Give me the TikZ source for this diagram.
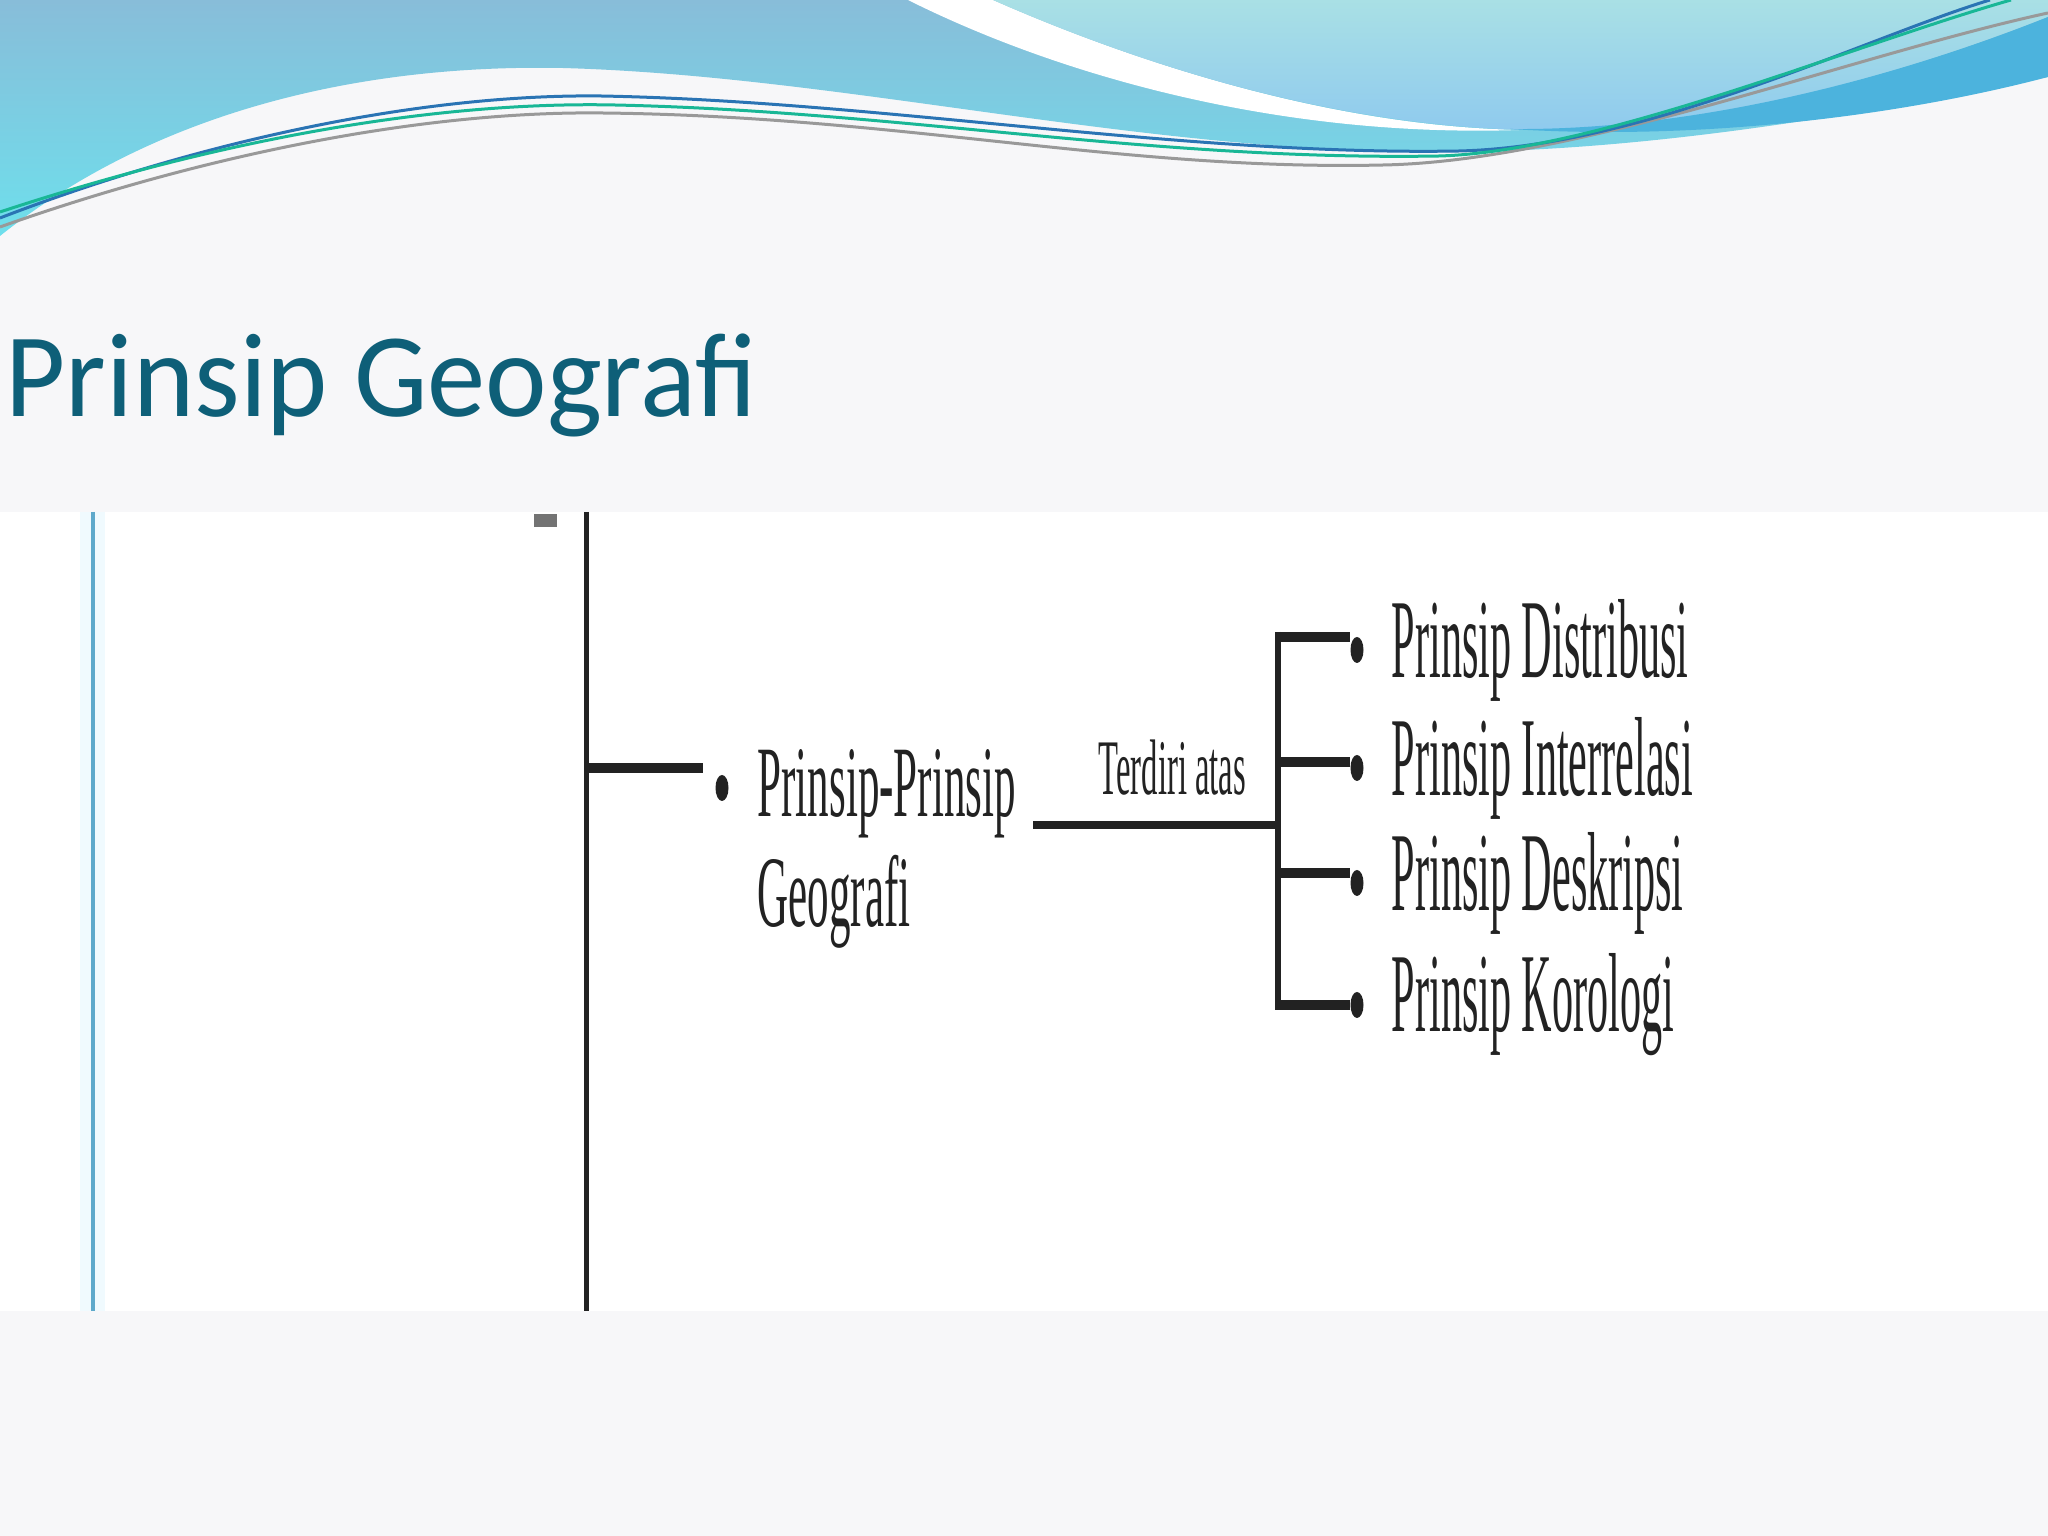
\documentclass[tikz,border=0pt]{standalone}
\usepackage{fontspec}
\usepackage{graphicx}
\usetikzlibrary{positioning,shapes.geometric}
\newfontfamily\titlefont{Carlito}
\newfontfamily\chartfont{Liberation Serif}
\definecolor{pagebg}{HTML}{F7F7F9}
\definecolor{titleteal}{HTML}{0E5F78}
\definecolor{waveTop}{HTML}{88BDD9}
\definecolor{waveBot}{HTML}{6EDFEC}
\definecolor{lightTop}{HTML}{A9E0E5}
\definecolor{lightBot}{HTML}{8FCAEE}
\definecolor{bandblue}{HTML}{4CB3DD}
\definecolor{edgeblue}{HTML}{5EA9CB}
\definecolor{linegreen}{HTML}{19B796}
\definecolor{lineblue}{HTML}{2A74B4}
\definecolor{inkgray}{HTML}{222222}
\newcommand{\squeeze}[2]{\scalebox{#1}[1]{#2}}
\tikzset{
  trunk/.style={line width=0.05cm, color=inkgray},
  branch/.style={line width=0.1cm, color=inkgray},
  dot/.style={ellipse, fill=inkgray, inner sep=0pt, minimum width=0.13cm, minimum height=0.26cm},
  item/.style={inner sep=0pt, anchor=west, text=inkgray, font=\chartfont\fontsize{32}{36}\selectfont},
}

\begin{document}
\begin{tikzpicture}
	%%%%% START %%%%%
	\useasboundingbox (0,0) rectangle (20.48,15.36);
	\fill[pagebg] (0,0) rectangle (20.48,15.36);
	
	% waves on top
	\shade[top color=waveTop, bottom color=waveBot] (0,15.36) -- (20.48,15.36) -- (20.48,14.59) .. controls (19.0,14.3) and (16.8,13.87) .. (14.6,13.84) .. controls (11.5,13.8) and (8.5,14.6) .. (5.62,14.68) .. controls (3.5,14.72) and (1.5,14.2) .. (0,13.0) -- cycle;
	\fill[white] (9.08,15.36) .. controls (10.6,14.6) and (12.8,13.98) .. (15.2,14.06) .. controls (13.2,14.1) and (11.2,14.8) .. (9.93,15.36) -- cycle;
	\shade[top color=lightTop, bottom color=lightBot] (9.93,15.36) -- (20.48,15.36) -- (20.48,15.19) .. controls (19.0,14.6) and (17.0,14.05) .. (15.3,14.06) .. controls (13.2,14.1) and (11.2,14.8) .. (9.93,15.36) -- cycle;
	\fill[bandblue] (15.1,14.07) .. controls (17.0,14.05) and (19.0,14.6) .. (20.48,15.19) -- (20.48,14.59) .. controls (19.0,14.2) and (17.0,13.95) .. (15.1,14.07) -- cycle;
	\draw[line width=0.03cm, color=black!40] (0,13.09) .. controls (2.0,13.8) and (4.2,14.25) .. (6.01,14.23) .. controls (9.0,14.2) and (11.2,13.65) .. (13.84,13.71) .. controls (15.8,13.75) and (18.5,14.8) .. (20.48,15.23);
	\draw[line width=0.03cm, color=lineblue] (0,13.18) .. controls (2.0,13.95) and (4.2,14.42) .. (6.0,14.40) .. controls (8.8,14.35) and (11.8,13.8) .. (14.6,13.85) .. controls (16.5,13.9) and (18.7,15.0) .. (19.9,15.36);
	\draw[line width=0.03cm, color=linegreen] (0,13.24) .. controls (2.0,13.9) and (4.2,14.35) .. (6.14,14.31) .. controls (9.0,14.25) and (11.5,13.75) .. (14.4,13.80) .. controls (16.0,13.85) and (18.5,14.9) .. (20.11,15.36);
	
	\node[anchor=base west, inner sep=0pt, text=titleteal, font=\titlefont\fontsize{34}{40}\selectfont] (title) at (0.05,11.19) {\squeeze{0.975}{Prinsip Geograf{}i}};
	
	% pasted chart
	\fill[white] (0,2.25) rectangle (20.48,10.24);
	\draw[line width=0.25cm, color=cyan!6] (0.93,10.24) -- (0.93,2.25);
	\draw[line width=0.035cm, color=edgeblue] (0.93,10.24) -- (0.93,2.25);
	\fill[black!55] (5.34,10.09) rectangle (5.57,10.22);
	
	\coordinate (ttop) at (5.86,10.24);
	\coordinate (tbot) at (5.86,2.25);
	\coordinate (jm) at (5.86,7.68);
	\draw[trunk] (ttop) -- (tbot);
	
	\node[dot] (mb) at (7.22,7.48) {};
	\draw[branch, shorten >=0.12cm] (jm) -- (jm -| mb.west);
	\node[anchor=base west, inner sep=0pt, text=inkgray, font=\chartfont\fontsize{28.8}{31.3}\selectfont] (pg) at (7.57,7.19) {\squeeze{0.425}{\begin{tabular}[t]{@{}l@{}}Prinsip-Prinsip\\Geografi\end{tabular}}};
	
	\coordinate (hstart) at (10.33,7.11);
	\coordinate (split) at (12.78,7.11);
	\draw[branch, line width=0.08cm] (hstart) -- (split);
	\node[anchor=base west, inner sep=0pt, text=inkgray, font=\chartfont\fontsize{22.4}{26}\selectfont] (terdiri) at (10.98,7.41) {\squeeze{0.415}{Terdiri atas}};
	
	\coordinate (btop) at (12.78,8.99);
	\coordinate (j2) at (12.78,7.74);
	\coordinate (j3) at (12.78,6.63);
	\coordinate (bbot) at (12.78,5.31);
	\draw[trunk, line width=0.06cm] ([yshift=0.05cm]btop) -- ([yshift=-0.05cm]bbot);
	
	\node[dot] (b1) at (13.57,8.86) {};
	\node[dot] (b2) at (13.57,7.68) {};
	\node[dot] (b3) at (13.57,6.53) {};
	\node[dot] (b4) at (13.57,5.31) {};
	\draw[branch] (btop) -- (btop -| b1.west);
	\draw[branch] (j2) -- (j2 -| b2.west);
	\draw[branch] (j3) -- (j3 -| b3.west);
	\draw[branch] (bbot) -- (bbot -| b4.west);
	
	\node[item, right=0.27cm of b1] (distribusi) {\squeeze{0.375}{Prinsip Distribusi}};
	\node[item, right=0.27cm of b2] (interrelasi) {\squeeze{0.375}{Prinsip Interrelasi}};
	\node[item, right=0.27cm of b3] (deskripsi) {\squeeze{0.375}{Prinsip Deskripsi}};
	\node[item, right=0.27cm of b4] (korologi) {\squeeze{0.375}{Prinsip Korologi}};
	%%%%% END %%%%%
\end{tikzpicture}
\end{document}
